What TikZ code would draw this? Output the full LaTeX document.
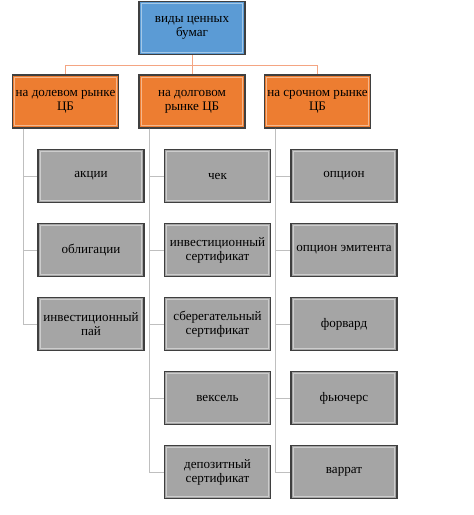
\documentclass[tikz,border=0pt]{standalone}
\usepackage{fontspec}
\setmainfont{Liberation Serif}
\definecolor{rootblue}{HTML}{5B9BD5}
\definecolor{lvlorange}{HTML}{ED7D31}
\definecolor{leafgray}{HTML}{A5A5A5}
\definecolor{edgedark}{HTML}{3F3F3F}
\definecolor{linkorange}{HTML}{F4A582}
\definecolor{linkgray}{HTML}{BFBFBF}
\begin{document}
\begin{tikzpicture}[x=1pt,y=-1pt,
  box/.style={draw=edgedark,line width=1.3pt,minimum width=106pt,minimum height=53pt,
    align=center,inner sep=1pt,font=\fontsize{13.1}{14}\selectfont,text=black},
  rootbox/.style={box,fill=rootblue},
  midbox/.style={box,fill=lvlorange},
  leafbox/.style={box,fill=leafgray},
  toplink/.style={draw=linkorange,line width=1pt},
  leaflink/.style={draw=linkgray,line width=1pt}]
\useasboundingbox (0,0) rectangle (474,515);
\node[rootbox] (root) at (192,28) {виды ценных\\бумаг};
\node[midbox] (m1) at (65.5,101.5) {на долевом рынке\\ЦБ};
\node[midbox] (m2) at (192,101.5) {на долговом\\рынке ЦБ};
\node[midbox] (m3) at (317.5,101.5) {на срочном рынке\\ЦБ};
\node[leafbox] (a1) at (91,176) {акции};
\node[leafbox] (a2) at (91,250) {облигации};
\node[leafbox] (a3) at (91,324) {инвестиционный\\пай};
\node[leafbox] (b1) at (217.5,176) {чек};
\node[leafbox] (b2) at (217.5,250) {инвестиционный\\сертификат};
\node[leafbox] (b3) at (217.5,324) {сберегательный\\сертификат};
\node[leafbox] (b4) at (217.5,398) {вексель};
\node[leafbox] (b5) at (217.5,472) {депозитный\\сертификат};
\node[leafbox] (c1) at (344,176) {опцион};
\node[leafbox] (c2) at (344,250) {опцион эмитента};
\node[leafbox] (c3) at (344,324) {форвард};
\node[leafbox] (c4) at (344,398) {фьючерс};
\node[leafbox] (c5) at (344,472) {варрат};
% top connectors
\coordinate (hub) at (192,65);
\draw[toplink] (root.south) -- (hub);
\foreach \m in {m1,m2,m3}{\draw[toplink] (hub) -| (\m.north);}
% leaf connectors
\foreach \m/\leaves in {m1/{a1,a2,a3},m2/{b1,b2,b3,b4,b5},m3/{c1,c2,c3,c4,c5}}{
  \foreach \l in \leaves {
    \draw[leaflink] ([xshift=-42.5pt]\m.south) |- (\l.west);
  }
}
% bevel highlights
\foreach \n in {root,m1,m2,m3,a1,a2,a3,b1,b2,b3,b4,b5,c1,c2,c3,c4,c5}{
  \draw[white,opacity=0.45,line width=0.8pt] ([shift={(3,3)}]\n.north west) rectangle ([shift={(-3,-3)}]\n.south east);
}
\end{tikzpicture}
\end{document}
